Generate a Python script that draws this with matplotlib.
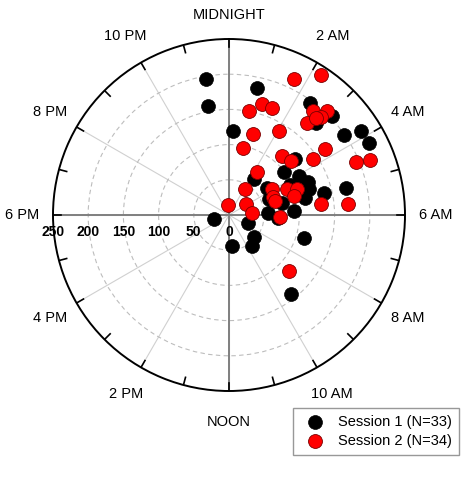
import numpy as np
from matplotlib import pyplot as plt
from matplotlib.ticker import FixedLocator

# session 1 (black): time of day in hours, radial value
s1_hours = [23.36, 23.28, 0.83, 0.19, 2.39, 3.07, 2.91, 3.68, 3.83, 4.19,
            3.32, 3.46, 4.05, 4.48, 4.82, 5.17, 5.11, 5.14, 2.32, 3.65,
            4.58, 5.83, 5.75, 6.26, 7.55, 16.91, 8.78, 9.54, 11.67, 7.12,
            9.45, 5.15, 4.25]
s1_vals = [196, 158, 185, 120, 197, 203, 180, 199, 222, 223,
           123, 100, 114, 122, 120, 110, 138, 170, 62, 66,
           61, 55, 92, 70, 30, 22, 48, 55, 44, 111,
           142, 77, 96]

# session 2 (red)
s2_hours = [1.70, 2.22, 1.10, 1.45, 0.74, 2.60, 2.88, 2.87, 2.70, 1.11,
            2.04, 0.81, 3.69, 2.81, 3.26, 3.74, 4.48, 4.59, 2.17, 2.13,
            3.93, 4.40, 4.61, 4.51, 4.87, 4.91, 23.52, 3.92, 5.72, 6.17,
            5.56, 5.66, 8.88, 2.79]
s2_vals = [214, 238, 164, 164, 150, 190, 203, 191, 171, 120,
           139, 97, 165, 113, 117, 143, 195, 215, 73, 43,
           71, 90, 103, 68, 68, 96, 15, 29, 33, 73,
           131, 170, 116, 185]

hour_ticks = [0, 2, 4, 6, 8, 10, 12, 14, 16, 18, 20, 22]
hour_labels = ['', '2 AM', '4 AM', '6 AM', '8 AM', '10 AM',
               'NOON', '2 PM', '4 PM', '6 PM', '8 PM', '10 PM']
r_ticks = [250, 200, 150, 100, 50, 0]

plt.rcParams['font.family'] = ['Liberation Sans', 'DejaVu Sans']

fig = plt.figure(figsize=(4.74, 4.83), dpi=100)
ax = fig.add_axes([53 / 474, 92 / 483, 352 / 474, 352 / 483], projection='polar')
ax.set_theta_zero_location('N')
ax.set_theta_direction(-1)
ax.set_ylim(0, 250)

def h2rad(h):
    return np.deg2rad(np.array(h) * 15.0)

ax.scatter(h2rad(s1_hours), s1_vals, s=100, c='black', edgecolors='black',
           linewidths=0.5, zorder=3, label='Session 1 (N=33)')
ax.scatter(h2rad(s2_hours), s2_vals, s=100, c='#ff0000', edgecolors='#7a0000',
           linewidths=0.6, zorder=4, label='Session 2 (N=34)')

# angular grid
ax.set_xticks(h2rad(hour_ticks))
ax.set_xticklabels(hour_labels, fontsize=10.5)
ax.tick_params(axis='x', which='both', length=0, pad=15)
ax.xaxis.grid(True, color='#d0d0d0', linestyle='-', linewidth=0.8)
ax.annotate('MIDNIGHT', xy=(0, 250), xytext=(0, 17.5), textcoords='offset points',
            ha='center', va='center', fontsize=10.5, annotation_clip=False)

# radial grid
ax.set_yticks([50, 100, 150, 200])
ax.set_yticklabels([])
ax.yaxis.grid(True, color='#bdbdbd', linestyle=(0, (4, 3)), linewidth=0.8)
ax.spines['polar'].set_linewidth(1.4)
ax.spines['polar'].set_color('black')

# main axes in darker gray
for h in [0, 6, 12, 18]:
    ax.axvline(h2rad(h), color='#7f7f7f', linewidth=1.4, zorder=2)

# hour ticks on the outer circle, pointing inward
for h in range(24):
    ax.axvline(h2rad(h), ymin=0.955, ymax=1.0, color='black', linewidth=1.2, zorder=2.5)

# radial labels along the 6 PM axis
for r in r_ticks:
    ax.annotate(str(r), xy=(h2rad(18), r), xytext=(0, -7), textcoords='offset points',
                ha='center', va='top', fontsize=10, fontweight='bold',
                annotation_clip=False, zorder=5)

leg = ax.legend(loc='upper left', bbox_to_anchor=(293 / 474, 1 - 408 / 483),
                bbox_transform=fig.transFigure, fontsize=10.5, frameon=True,
                fancybox=False, edgecolor='#7f7f7f', handletextpad=0.6,
                borderpad=0.5, labelspacing=0.3, borderaxespad=0)
leg.get_frame().set_linewidth(1.0)

fig.savefig('out.png', dpi=100)
